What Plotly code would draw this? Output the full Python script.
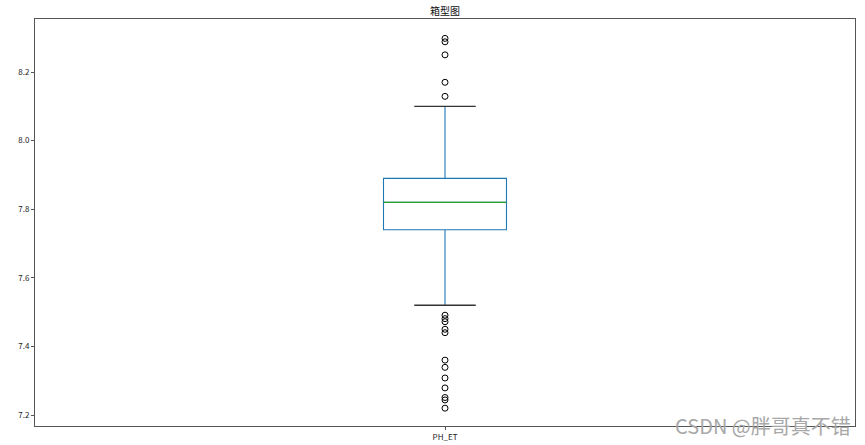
import plotly.graph_objects as go

# ---- data ----
category = "PH_ET"
q1 = 7.74
median = 7.82
q3 = 7.89
lower_whisker = 7.52
upper_whisker = 8.10
outliers = [8.298, 8.288, 8.250, 8.170, 8.129,
            7.491, 7.481, 7.472, 7.450, 7.440,
            7.360, 7.339, 7.308, 7.279, 7.251, 7.244, 7.220]
y_ticks = [7.2, 7.4, 7.6, 7.8, 8.0, 8.2]
title_text = "箱型图"

# ---- style ----
pos = 1.0
box_width = 0.15
cap_width = box_width / 2
font_family = "Noto Sans CJK SC, DejaVu Sans, sans-serif"

fig = go.Figure()
fig.add_trace(go.Box(
    x=[pos], q1=[q1], median=[median], q3=[q3],
    lowerfence=[lower_whisker], upperfence=[upper_whisker],
    width=box_width, whiskerwidth=0,
    line=dict(color="#1f77b4", width=1.1),
    fillcolor="rgba(0,0,0,0)", showlegend=False, hoverinfo="skip",
))
# median line (green)
fig.add_trace(go.Scatter(
    x=[pos - box_width / 2, pos + box_width / 2], y=[median, median],
    mode="lines", line=dict(color="#2ca02c", width=1.3),
    showlegend=False, hoverinfo="skip",
))
# caps (black)
for v in (lower_whisker, upper_whisker):
    fig.add_trace(go.Scatter(
        x=[pos - cap_width / 2, pos + cap_width / 2], y=[v, v],
        mode="lines", line=dict(color="#333333", width=1.3),
        showlegend=False, hoverinfo="skip",
    ))
# outliers
fig.add_trace(go.Scatter(
    x=[pos] * len(outliers), y=outliers, mode="markers",
    marker=dict(symbol="circle-open", size=6, color="black", line=dict(width=1)),
    showlegend=False, hoverinfo="skip",
))

fig.update_layout(
    width=865, height=445,
    margin=dict(l=35, r=10, t=19, b=19, autoexpand=False),
    paper_bgcolor="white", plot_bgcolor="white",
    font=dict(family=font_family, size=8, color="#222222"),
    title=dict(text=title_text, x=(35 + 855) / 2 / 865, xanchor="center",
               y=1 - 11 / 445, yanchor="middle", automargin=False,
               font=dict(size=10, color="#111111")),
)
fig.update_xaxes(
    range=[0.5, 1.5], tickvals=[pos], ticktext=[category], automargin=False,
    showgrid=False, zeroline=False, showline=True, mirror=True,
    linecolor="#555555", linewidth=1, ticks="outside", ticklen=3,
    tickcolor="#555555", tickfont=dict(size=8),
)
fig.update_yaxes(
    range=[7.168, 8.3545], tickvals=y_ticks, ticktext=[f"{t:.1f}" for t in y_ticks],
    automargin=False,
    showgrid=False, zeroline=False, showline=True, mirror=True,
    linecolor="#555555", linewidth=1, ticks="outside", ticklen=3,
    tickcolor="#555555", tickfont=dict(size=8),
)
fig.add_annotation(
    text="CSDN @胖哥真不错", xref="paper", yref="paper",
    x=1.0, y=0, xanchor="right", yanchor="middle", xshift=-2, yshift=1,
    showarrow=False, font=dict(size=20, color="#a8a8a8", family=font_family),
)
fig.write_html("out.html", config={"displayModeBar": False},
               post_script="document.body.style.margin='0';")
